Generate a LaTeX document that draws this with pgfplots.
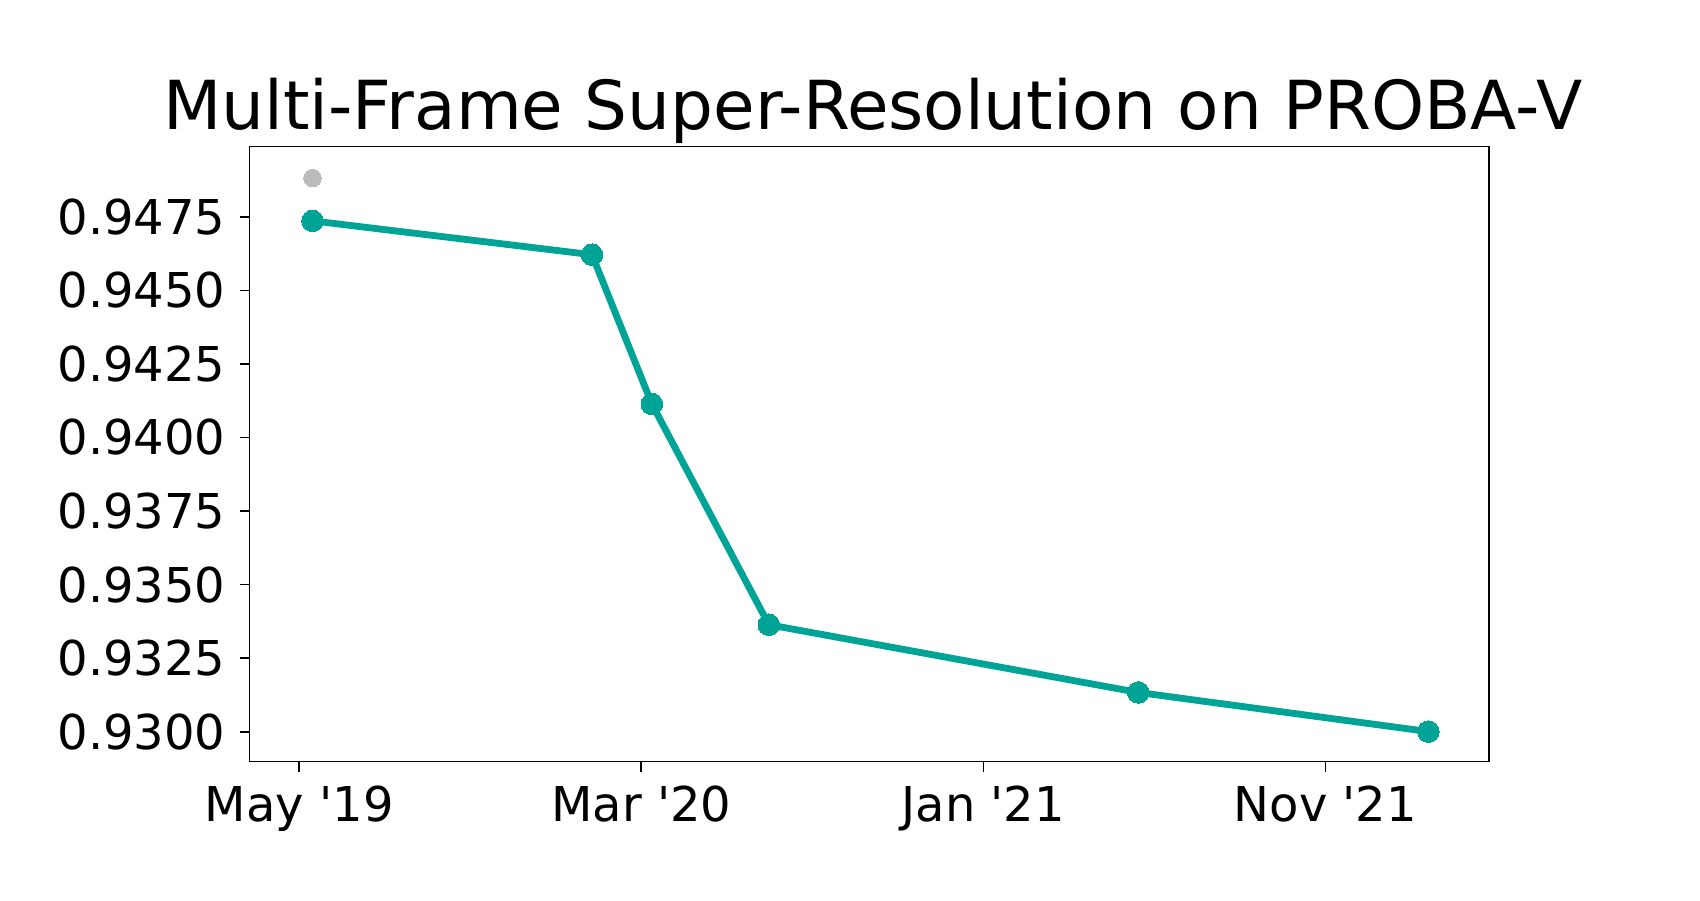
\documentclass[border=0pt]{standalone}
\usepackage{fontspec}
\setmainfont{DejaVu Sans}[Ligatures=TeXOff]
\usepackage{pgfplots}
\pgfplotsset{compat=1.18}
\definecolor{teal}{RGB}{0,164,151}
\definecolor{dotgray}{RGB}{187,187,187}

\begin{document}
\begin{tikzpicture}
\path[use as bounding box] (0,0) rectangle (425pt,225pt);
\begin{axis}[
    at={(62.4pt,34.6pt)},
    anchor=south west,
    scale only axis,
    width=309.9pt,
    height=153.8pt,
    xmin=-1.45, xmax=34.79,
    ymin=0.92899, ymax=0.94989,
    xtick={0,10,20,30},
    xticklabels={May '19,Mar '20,Jan '21,Nov '21},
    ytick={0.9300,0.9325,0.9350,0.9375,0.9400,0.9425,0.9450,0.9475},
    yticklabel style={/pgf/number format/.cd,fixed,fixed zerofill,precision=4},
    /pgf/number format/assume math mode=true,
    scaled y ticks=false,
    tick align=outside,
    xtick pos=bottom,
    ytick pos=left,
    major tick length=2.5pt,
    tick style={black, line width=0.4pt},
    axis line style={line width=0.4pt},
    tick label style={font=\fontsize{12}{14}\selectfont},
    title={Multi-Frame Super-Resolution on PROBA-V},
    title style={at={(0.5,1)}, anchor=base, xshift=0.8pt, yshift=-1.7pt, font=\fontsize{16.9}{20}\selectfont},
    clip=false,
]
\addplot[only marks, mark=*, mark size=2.2pt, color=dotgray, mark options={line width=0pt}] coordinates {
    (0.39,0.94881)
};
\addplot[color=teal, line width=1.7pt, mark=*, mark size=2.7pt, mark options={line width=0pt}] coordinates {
    (0.39,0.94736)
    (8.56,0.94621)
    (10.31,0.94114)
    (13.73,0.93364)
    (24.53,0.93134)
    (33.01,0.93001)
};
\end{axis}
\end{tikzpicture}
\end{document}
